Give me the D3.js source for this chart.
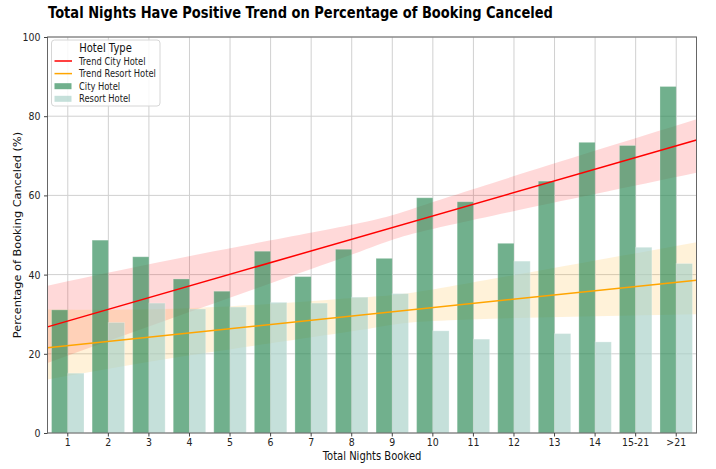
<!DOCTYPE html>
<html><head><meta charset="utf-8">
<script src="https://cdn.jsdelivr.net/npm/d3@7"></script>
<style>body{margin:0;background:#fff}svg{display:block;font-family:"DejaVu Sans",sans-serif}</style>
</head><body><svg id="c" width="716" height="469"></svg>
<script>
const categories = ["1","2","3","4","5","6","7","8","9","10","11","12","13","14","15-21",">21"];
const cityValues = [31.1, 48.7, 44.5, 38.9, 35.8, 45.9, 39.5, 46.4, 44.1, 59.4, 58.4, 47.9, 63.6, 73.4, 72.6, 87.5];
const resortValues = [15.1, 27.9, 32.8, 31.3, 31.8, 33.0, 32.8, 34.3, 35.2, 25.8, 23.7, 43.4, 25.1, 23.0, 46.9, 42.8];
const yTicks = [0, 20, 40, 60, 80, 100];
// trend lines (category index units)
const trendX = [-0.5, 15.5];
const cityTrendY = [26.8, 74.0];
const resortTrendY = [21.5, 38.6];
const cityBandX = [-0.5, 3.26, 7.2, 9.42, 15.5];
const cityBandLo = [17.7, 31.5, 45.8, 52.5, 65.7];
const cityBandHi = [37.2, 45.2, 53.0, 59.7, 79.2];
const resortBandX = [-0.5, 3.26, 7.2, 9.42, 15.5];
const resortBandLo = [13.5, 20.0, 26.0, 28.5, 30.0];
const resortBandHi = [31.2, 31.6, 34.2, 37.0, 48.2];

const SX = 0.87; // horizontal squeeze of text seen in the reference
const svg = d3.select("#c");
const L = 47.5, R = 696.5, T = 37, B = 433;
const x = d3.scaleBand().domain(categories).range([L, R]).padding(0);
const xi = d3.scaleLinear().domain([-0.5, categories.length - 0.5]).range([L, R]);
const y = d3.scaleLinear().domain([0, 100]).range([B, T]);
const bw = x.bandwidth();

function htext(px, py, str, size, opts = {}) {
  return svg.append("text").attr("transform", `translate(${px},${py}) scale(${SX},1)`)
    .attr("text-anchor", opts.anchor || "start").attr("font-size", size + "px")
    .attr("font-weight", opts.weight || "normal").attr("fill", opts.fill || "#111").text(str);
}

// grid
const g = svg.append("g");
g.selectAll(".vg").data(categories).join("line")
  .attr("x1", d => x(d) + bw / 2).attr("x2", d => x(d) + bw / 2)
  .attr("y1", T).attr("y2", B).attr("stroke", "#d0d0d0").attr("stroke-width", 1);
g.selectAll(".hg").data(yTicks).join("line")
  .attr("x1", L).attr("x2", R).attr("y1", d => y(d)).attr("y2", d => y(d))
  .attr("stroke", "#d0d0d0").attr("stroke-width", 1);

// bands
function band(xs, lo, hi, color) {
  const pts = xs.map((v, i) => ({ x: v, lo: lo[i], hi: hi[i] }));
  svg.append("path").datum(pts)
    .attr("d", d3.area().curve(d3.curveNatural).x(d => xi(d.x)).y0(d => y(d.lo)).y1(d => y(d.hi)))
    .attr("fill", color).attr("fill-opacity", 0.15);
}
band(cityBandX, cityBandLo, cityBandHi, "red");
band(resortBandX, resortBandLo, resortBandHi, "orange");

// bars
svg.append("g").selectAll("rect").data(categories).join("rect")
  .attr("x", d => x(d) + bw * 0.1).attr("width", bw * 0.4)
  .attr("y", (d, i) => y(cityValues[i])).attr("height", (d, i) => B - y(cityValues[i]))
  .attr("fill", "#2E8B57").attr("fill-opacity", 0.68)
  .attr("stroke", "#ffffff").attr("stroke-opacity", 0.25).attr("stroke-width", 1);
svg.append("g").selectAll("rect").data(categories).join("rect")
  .attr("x", d => x(d) + bw * 0.5).attr("width", bw * 0.4)
  .attr("y", (d, i) => y(resortValues[i])).attr("height", (d, i) => B - y(resortValues[i]))
  .attr("fill", "#a6d0c6").attr("fill-opacity", 0.65)
  .attr("stroke", "#ffffff").attr("stroke-opacity", 0.25).attr("stroke-width", 1);

// trend lines
function tline(ys, color) {
  svg.append("path").datum(trendX.map((v, i) => [v, ys[i]]))
    .attr("d", d3.line().x(d => xi(d[0])).y(d => y(d[1])))
    .attr("stroke", color).attr("stroke-width", 1.5).attr("fill", "none");
}
tline(cityTrendY, "red");
tline(resortTrendY, "orange");

// frame
svg.append("rect").attr("x", L).attr("y", T).attr("width", R - L).attr("height", B - T)
  .attr("fill", "none").attr("stroke", "#666").attr("stroke-width", 1);

// axes
const xa = svg.append("g").attr("transform", `translate(0,${B})`)
  .call(d3.axisBottom(x).tickSize(3.5).tickPadding(2));
const ya = svg.append("g").attr("transform", `translate(${L},0)`)
  .call(d3.axisLeft(y).tickValues(yTicks).tickSize(3.5).tickPadding(3.5));
[xa, ya].forEach(a => {
  a.select(".domain").remove();
  a.selectAll(".tick line").attr("stroke", "#444");
  a.selectAll(".tick text").attr("font-size", "10.8px").attr("fill", "#222")
    .attr("font-family", "DejaVu Sans, sans-serif");
});
xa.selectAll(".tick text").attr("transform", `scale(${SX},1)`);
ya.selectAll(".tick text").attr("x", -7 / SX).attr("transform", `scale(${SX},1)`);

htext(372, 459.5, "Total Nights Booked", 11.5, { anchor: "middle" });
svg.append("text").attr("transform", `translate(21,${(T + B) / 2}) rotate(-90)`)
  .attr("text-anchor", "middle").attr("font-size", "11.3px").attr("fill", "#111")
  .text("Percentage of Booking Canceled (%)");
htext(48, 18, "Total Nights Have Positive Trend on Percentage of Booking Canceled", 15,
  { weight: "bold", fill: "#000" });

// legend
const lg = svg.append("g");
lg.append("rect").attr("x", 51.5).attr("y", 40).attr("width", 108.5).attr("height", 66)
  .attr("rx", 3).attr("fill", "#fff").attr("fill-opacity", 0.85).attr("stroke", "#d6d6d6");
htext(105.5, 52, "Hotel Type", 11.5, { anchor: "middle" });
const legendItems = [
  { label: "Trend City Hotel", type: "line", color: "red" },
  { label: "Trend Resort Hotel", type: "line", color: "orange" },
  { label: "City Hotel", type: "rect", color: "#2E8B57", op: 0.68 },
  { label: "Resort Hotel", type: "rect", color: "#a6d0c6", op: 0.65 }
];
legendItems.forEach((it, i) => {
  const cy = 61 + i * 12.6;
  if (it.type === "line") {
    lg.append("line").attr("x1", 54.5).attr("x2", 72).attr("y1", cy).attr("y2", cy)
      .attr("stroke", it.color).attr("stroke-width", 1.5);
  } else {
    lg.append("rect").attr("x", 54.5).attr("y", cy - 3).attr("width", 17).attr("height", 6)
      .attr("fill", it.color).attr("fill-opacity", it.op);
  }
  htext(79, cy + 3.5, it.label, 9.6, { fill: "#222" });
});
</script></body></html>
